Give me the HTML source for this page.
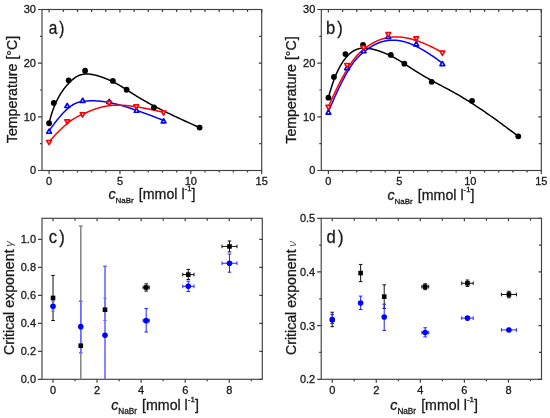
<!DOCTYPE html>
<html><head><meta charset="utf-8"><style>
html,body{margin:0;padding:0;background:#fff;}
svg{display:block;filter:blur(0.3px);}
text{font-family:"Liberation Sans", sans-serif;fill:#1a1a1a;stroke:#1a1a1a;stroke-width:0.3px;}
.tk{font-size:11px;}
.ti{font-size:14.2px;}
.pl{font-size:17.5px;}
</style></head><body>
<svg width="550" height="418" viewBox="0 0 550 418">
<rect width="550" height="418" fill="#fff"/>
<rect x="42" y="9.5" width="219.7" height="161.0" fill="none" stroke="#404040" stroke-width="1.15"/>
<path d="M49.09,170.5 v3.5 M49.09,9.5 v3 M119.96,170.5 v3.5 M119.96,9.5 v3 M190.83,170.5 v3.5 M190.83,9.5 v3 M261.70,170.5 v3.5 M261.70,9.5 v3 M63.26,170.5 v2 M63.26,9.5 v2.5 M77.44,170.5 v2 M77.44,9.5 v2.5 M91.61,170.5 v2 M91.61,9.5 v2.5 M105.78,170.5 v2 M105.78,9.5 v2.5 M134.13,170.5 v2 M134.13,9.5 v2.5 M148.31,170.5 v2 M148.31,9.5 v2.5 M162.48,170.5 v2 M162.48,9.5 v2.5 M176.65,170.5 v2 M176.65,9.5 v2.5 M205.00,170.5 v2 M205.00,9.5 v2.5 M219.18,170.5 v2 M219.18,9.5 v2.5 M233.35,170.5 v2 M233.35,9.5 v2.5 M247.53,170.5 v2 M247.53,9.5 v2.5 M42,170.50 h-4 M261.7,170.50 h-3 M42,116.83 h-4 M261.7,116.83 h-3 M42,63.17 h-4 M261.7,63.17 h-3 M42,9.50 h-4 M261.7,9.50 h-3 M42,143.67 h-2 M261.7,143.67 h-2.5 M42,90.00 h-2 M261.7,90.00 h-2.5 M42,36.33 h-2 M261.7,36.33 h-2.5" stroke="#404040" stroke-width="1.2" fill="none"/>
<text x="49.09" y="185.00" text-anchor="middle" class="tk">0</text>
<text x="119.96" y="185.00" text-anchor="middle" class="tk">5</text>
<text x="190.83" y="185.00" text-anchor="middle" class="tk">10</text>
<text x="261.70" y="185.00" text-anchor="middle" class="tk">15</text>
<text x="36.00" y="174.40" text-anchor="end" class="tk">0</text>
<text x="36.00" y="120.73" text-anchor="end" class="tk">10</text>
<text x="36.00" y="67.07" text-anchor="end" class="tk">20</text>
<text x="36.00" y="13.40" text-anchor="end" class="tk">30</text>
<rect x="321.3" y="9.5" width="219.99999999999994" height="161.0" fill="none" stroke="#404040" stroke-width="1.15"/>
<path d="M328.40,170.5 v3.5 M328.40,9.5 v3 M399.36,170.5 v3.5 M399.36,9.5 v3 M470.33,170.5 v3.5 M470.33,9.5 v3 M541.30,170.5 v3.5 M541.30,9.5 v3 M342.59,170.5 v2 M342.59,9.5 v2.5 M356.78,170.5 v2 M356.78,9.5 v2.5 M370.98,170.5 v2 M370.98,9.5 v2.5 M385.17,170.5 v2 M385.17,9.5 v2.5 M413.56,170.5 v2 M413.56,9.5 v2.5 M427.75,170.5 v2 M427.75,9.5 v2.5 M441.95,170.5 v2 M441.95,9.5 v2.5 M456.14,170.5 v2 M456.14,9.5 v2.5 M484.53,170.5 v2 M484.53,9.5 v2.5 M498.72,170.5 v2 M498.72,9.5 v2.5 M512.91,170.5 v2 M512.91,9.5 v2.5 M527.11,170.5 v2 M527.11,9.5 v2.5 M321.3,170.50 h-4 M541.3,170.50 h-3 M321.3,116.83 h-4 M541.3,116.83 h-3 M321.3,63.17 h-4 M541.3,63.17 h-3 M321.3,9.50 h-4 M541.3,9.50 h-3 M321.3,143.67 h-2 M541.3,143.67 h-2.5 M321.3,90.00 h-2 M541.3,90.00 h-2.5 M321.3,36.33 h-2 M541.3,36.33 h-2.5" stroke="#404040" stroke-width="1.2" fill="none"/>
<text x="328.40" y="185.00" text-anchor="middle" class="tk">0</text>
<text x="399.36" y="185.00" text-anchor="middle" class="tk">5</text>
<text x="470.33" y="185.00" text-anchor="middle" class="tk">10</text>
<text x="541.30" y="185.00" text-anchor="middle" class="tk">15</text>
<text x="315.30" y="174.40" text-anchor="end" class="tk">0</text>
<text x="315.30" y="120.73" text-anchor="end" class="tk">10</text>
<text x="315.30" y="67.07" text-anchor="end" class="tk">20</text>
<text x="315.30" y="13.40" text-anchor="end" class="tk">30</text>
<rect x="42" y="218.3" width="220.3" height="161.0" fill="none" stroke="#404040" stroke-width="1.15"/>
<path d="M53.02,379.3 v3.5 M53.02,218.3 v3 M97.08,379.3 v3.5 M97.08,218.3 v3 M141.13,379.3 v3.5 M141.13,218.3 v3 M185.20,379.3 v3.5 M185.20,218.3 v3 M229.25,379.3 v3.5 M229.25,218.3 v3 M75.05,379.3 v2 M75.05,218.3 v2.5 M119.11,379.3 v2 M119.11,218.3 v2.5 M163.17,379.3 v2 M163.17,218.3 v2.5 M207.23,379.3 v2 M207.23,218.3 v2.5 M251.28,379.3 v2 M251.28,218.3 v2.5 M42,379.30 h-4 M262.3,379.30 h-3 M42,351.30 h-4 M262.3,351.30 h-3 M42,323.30 h-4 M262.3,323.30 h-3 M42,295.30 h-4 M262.3,295.30 h-3 M42,267.30 h-4 M262.3,267.30 h-3 M42,239.30 h-4 M262.3,239.30 h-3" stroke="#404040" stroke-width="1.2" fill="none"/>
<text x="53.02" y="393.80" text-anchor="middle" class="tk">0</text>
<text x="97.08" y="393.80" text-anchor="middle" class="tk">2</text>
<text x="141.13" y="393.80" text-anchor="middle" class="tk">4</text>
<text x="185.20" y="393.80" text-anchor="middle" class="tk">6</text>
<text x="229.25" y="393.80" text-anchor="middle" class="tk">8</text>
<text x="36.00" y="383.20" text-anchor="end" class="tk">0.0</text>
<text x="36.00" y="355.20" text-anchor="end" class="tk">0.2</text>
<text x="36.00" y="327.20" text-anchor="end" class="tk">0.4</text>
<text x="36.00" y="299.20" text-anchor="end" class="tk">0.6</text>
<text x="36.00" y="271.20" text-anchor="end" class="tk">0.8</text>
<text x="36.00" y="243.20" text-anchor="end" class="tk">1.0</text>
<rect x="321.2" y="218.3" width="220.3" height="161.0" fill="none" stroke="#404040" stroke-width="1.15"/>
<path d="M332.21,379.3 v3.5 M332.21,218.3 v3 M376.27,379.3 v3.5 M376.27,218.3 v3 M420.33,379.3 v3.5 M420.33,218.3 v3 M464.39,379.3 v3.5 M464.39,218.3 v3 M508.45,379.3 v3.5 M508.45,218.3 v3 M354.25,379.3 v2 M354.25,218.3 v2.5 M398.31,379.3 v2 M398.31,218.3 v2.5 M442.37,379.3 v2 M442.37,218.3 v2.5 M486.43,379.3 v2 M486.43,218.3 v2.5 M530.49,379.3 v2 M530.49,218.3 v2.5 M321.2,379.30 h-4 M541.5,379.30 h-3 M321.2,325.63 h-4 M541.5,325.63 h-3 M321.2,271.97 h-4 M541.5,271.97 h-3 M321.2,218.30 h-4 M541.5,218.30 h-3 M321.2,352.47 h-2 M541.5,352.47 h-2.5 M321.2,298.80 h-2 M541.5,298.80 h-2.5 M321.2,245.13 h-2 M541.5,245.13 h-2.5" stroke="#404040" stroke-width="1.2" fill="none"/>
<text x="332.21" y="393.80" text-anchor="middle" class="tk">0</text>
<text x="376.27" y="393.80" text-anchor="middle" class="tk">2</text>
<text x="420.33" y="393.80" text-anchor="middle" class="tk">4</text>
<text x="464.39" y="393.80" text-anchor="middle" class="tk">6</text>
<text x="508.45" y="393.80" text-anchor="middle" class="tk">8</text>
<text x="315.20" y="383.20" text-anchor="end" class="tk">0.2</text>
<text x="315.20" y="329.53" text-anchor="end" class="tk">0.3</text>
<text x="315.20" y="275.87" text-anchor="end" class="tk">0.4</text>
<text x="315.20" y="222.20" text-anchor="end" class="tk">0.5</text>
<text transform="translate(48.8,33.8) scale(0.88,1)" class="pl">a<tspan dx="2.2">)</tspan></text>
<text transform="translate(326.0,33.8) scale(0.95,1)" class="pl">b<tspan dx="2.2">)</tspan></text>
<text transform="translate(48.8,242.60000000000002) scale(0.95,1)" class="pl">c<tspan dx="2.2">)</tspan></text>
<text transform="translate(326.59999999999997,242.60000000000002) scale(0.95,1)" class="pl">d<tspan dx="2.2">)</tspan></text>
<text x="108.5" y="198.5" class="ti" font-size="14.2"><tspan font-style="italic">c</tspan><tspan font-size="7.95" dy="4.6">NaBr</tspan><tspan dy="-4.6" dx="1.2"> [mmol l</tspan><tspan font-size="7.81" dy="-7.6">-1</tspan><tspan dy="7.6">]</tspan></text>
<text x="387.5" y="199.6" class="ti" font-size="14.2"><tspan font-style="italic">c</tspan><tspan font-size="7.95" dy="4.6">NaBr</tspan><tspan dy="-4.6" dx="1.2"> [mmol l</tspan><tspan font-size="7.81" dy="-7.6">-1</tspan><tspan dy="7.6">]</tspan></text>
<text x="111.2" y="409.6" class="ti" font-size="14.6"><tspan font-style="italic">c</tspan><tspan font-size="8.18" dy="4.6">NaBr</tspan><tspan dy="-4.6" dx="1.2"> [mmol l</tspan><tspan font-size="8.03" dy="-7.6">-1</tspan><tspan dy="7.6">]</tspan></text>
<text x="390.3" y="409.6" class="ti" font-size="14.6"><tspan font-style="italic">c</tspan><tspan font-size="8.18" dy="4.6">NaBr</tspan><tspan dy="-4.6" dx="1.2"> [mmol l</tspan><tspan font-size="8.03" dy="-7.6">-1</tspan><tspan dy="7.6">]</tspan></text>
<text x="0" y="0" transform="translate(17.2,89.5) rotate(-90)" text-anchor="middle" class="ti" font-size="14.2">Temperature [°C]</text>
<text x="0" y="0" transform="translate(295.6,90) rotate(-90)" text-anchor="middle" class="ti" font-size="14.2">Temperature [°C]</text>
<text x="0" y="0" transform="translate(13.5,298) rotate(-90)" text-anchor="middle" class="ti" font-size="14.2">Critical exponent <tspan font-size="11.5" font-style="italic" fill="#555" stroke="none" dx="-1.2" dy="-0.5">γ</tspan></text>
<text x="0" y="0" transform="translate(296,298) rotate(-90)" text-anchor="middle" class="ti" font-size="14.2">Critical exponent <tspan font-size="11.5" font-style="italic" fill="#555" stroke="none" dx="-1.2" dy="-0.5">ν</tspan></text>
<path d="M49.09,123.27 L49.34,122.19 L49.60,121.12 L49.86,120.06 L50.13,119.03 L50.41,118.01 L50.69,117.00 L50.97,116.02 L51.26,115.05 L51.55,114.10 L51.85,113.16 L52.15,112.24 L52.45,111.33 L52.76,110.44 L53.07,109.57 L53.39,108.71 L53.70,107.86 L54.03,107.03 L54.35,106.21 L54.68,105.41 L55.01,104.63 L55.34,103.85 L55.68,103.09 L56.02,102.35 L56.36,101.62 L56.70,100.90 L57.05,100.19 L57.39,99.50 L57.74,98.82 L58.09,98.15 L58.45,97.50 L58.80,96.86 L59.16,96.23 L59.51,95.61 L59.87,95.00 L60.23,94.41 L60.59,93.83 L60.95,93.25 L61.31,92.69 L61.67,92.14 L62.03,91.60 L62.39,91.07 L62.75,90.56 L63.11,90.05 L63.47,89.55 L63.83,89.06 L64.19,88.58 L64.55,88.11 L64.91,87.65 L65.27,87.20 L65.62,86.76 L65.98,86.33 L66.33,85.90 L66.69,85.49 L67.04,85.08 L67.39,84.68 L67.74,84.29 L68.08,83.90 L68.43,83.53 L68.77,83.16 L69.11,82.80 L69.45,82.44 L69.79,82.10 L70.13,81.76 L70.46,81.43 L70.80,81.11 L71.13,80.79 L71.46,80.48 L71.79,80.18 L72.13,79.89 L72.46,79.60 L72.79,79.33 L73.12,79.06 L73.45,78.79 L73.78,78.54 L74.11,78.29 L74.43,78.05 L74.76,77.81 L75.09,77.58 L75.42,77.36 L75.75,77.15 L76.09,76.95 L76.42,76.75 L76.75,76.56 L77.08,76.37 L77.42,76.20 L77.75,76.03 L78.09,75.86 L78.42,75.71 L78.76,75.56 L79.10,75.41 L79.44,75.28 L79.79,75.15 L80.13,75.03 L80.48,74.91 L80.83,74.81 L81.18,74.71 L81.53,74.61 L81.89,74.52 L82.24,74.44 L82.60,74.37 L82.96,74.30 L83.33,74.24 L83.70,74.19 L84.07,74.14 L84.44,74.10 L84.81,74.06 L85.19,74.04 L85.58,74.01 L85.96,74.00 L86.35,73.99 L86.74,73.99 L87.14,73.99 L87.54,74.00 L87.94,74.02 L88.35,74.04 L88.76,74.07 L89.17,74.11 L89.58,74.15 L90.00,74.19 L90.42,74.24 L90.85,74.30 L91.27,74.36 L91.70,74.43 L92.13,74.50 L92.56,74.58 L92.99,74.66 L93.42,74.75 L93.86,74.84 L94.30,74.93 L94.74,75.03 L95.17,75.13 L95.61,75.24 L96.05,75.35 L96.50,75.47 L96.94,75.59 L97.38,75.71 L97.82,75.84 L98.26,75.96 L98.70,76.10 L99.14,76.23 L99.59,76.37 L100.03,76.51 L100.46,76.65 L100.90,76.80 L101.34,76.95 L101.78,77.10 L102.21,77.25 L102.64,77.41 L103.07,77.57 L103.50,77.72 L103.93,77.89 L104.36,78.05 L104.78,78.21 L105.20,78.38 L105.62,78.54 L106.03,78.71 L106.45,78.88 L106.86,79.05 L107.26,79.22 L107.66,79.39 L108.06,79.56 L108.46,79.73 L108.85,79.90 L109.24,80.07 L109.63,80.24 L110.01,80.41 L110.38,80.58 L110.75,80.76 L111.12,80.93 L111.49,81.10 L111.84,81.27 L112.20,81.44 L112.55,81.61 L112.90,81.78 L113.25,81.95 L113.59,82.12 L113.93,82.29 L114.27,82.46 L114.61,82.63 L114.94,82.81 L115.28,82.98 L115.61,83.16 L115.94,83.33 L116.27,83.51 L116.60,83.69 L116.93,83.87 L117.26,84.05 L117.59,84.24 L117.92,84.42 L118.25,84.61 L118.58,84.80 L118.91,84.99 L119.25,85.19 L119.58,85.39 L119.92,85.58 L120.26,85.79 L120.60,85.99 L120.95,86.20 L121.29,86.41 L121.64,86.62 L122.00,86.84 L122.35,87.06 L122.71,87.28 L123.08,87.51 L123.45,87.74 L123.82,87.97 L124.20,88.21 L124.58,88.45 L124.97,88.70 L125.36,88.95 L125.76,89.20 L126.16,89.46 L126.57,89.72 L126.99,89.99 L127.41,90.26 L127.85,90.54 L128.28,90.82 L128.73,91.11 L129.18,91.40 L129.64,91.70 L130.11,92.00 L130.58,92.31 L131.07,92.62 L131.56,92.94 L132.07,93.26 L132.58,93.60 L133.10,93.93 L133.64,94.28 L134.19,94.63 L134.76,94.99 L135.34,95.35 L135.93,95.73 L136.55,96.11 L137.18,96.50 L137.83,96.90 L138.50,97.31 L139.19,97.73 L139.90,98.16 L140.64,98.60 L141.40,99.05 L142.18,99.50 L142.99,99.97 L143.83,100.45 L144.69,100.95 L145.59,101.45 L146.51,101.97 L147.46,102.49 L148.44,103.03 L149.46,103.59 L150.51,104.15 L151.59,104.73 L152.71,105.33 L153.86,105.93 L155.05,106.56 L156.28,107.19 L157.55,107.84 L158.86,108.51 L160.21,109.19 L161.60,109.89 L163.03,110.60 L164.51,111.33 L166.03,112.08 L167.59,112.84 L169.21,113.62 L170.87,114.42 L172.58,115.23 L174.33,116.06 L176.14,116.91 L178.00,117.78 L179.91,118.67 L181.88,119.58 L183.90,120.51 L185.97,121.46 L188.10,122.42 L190.28,123.41 L192.53,124.42 L194.83,125.45 L197.19,126.50 L199.62,127.57" fill="none" stroke="#000" stroke-width="1.5" stroke-linejoin="round"/>
<path d="M49.09,130.79 L49.90,129.64 L50.70,128.52 L51.49,127.43 L52.26,126.37 L53.02,125.35 L53.76,124.35 L54.50,123.38 L55.22,122.44 L55.92,121.53 L56.62,120.64 L57.30,119.79 L57.98,118.96 L58.64,118.15 L59.29,117.37 L59.92,116.62 L60.55,115.89 L61.17,115.19 L61.77,114.51 L62.37,113.85 L62.96,113.22 L63.53,112.61 L64.10,112.02 L64.66,111.46 L65.21,110.91 L65.75,110.39 L66.28,109.88 L66.80,109.40 L67.32,108.94 L67.83,108.49 L68.33,108.07 L68.82,107.66 L69.30,107.27 L69.78,106.90 L70.25,106.54 L70.72,106.20 L71.17,105.88 L71.63,105.57 L72.07,105.28 L72.51,105.00 L72.95,104.74 L73.38,104.49 L73.81,104.25 L74.23,104.02 L74.64,103.81 L75.05,103.61 L75.46,103.43 L75.87,103.25 L76.27,103.08 L76.66,102.93 L77.06,102.78 L77.45,102.64 L77.83,102.52 L78.22,102.40 L78.60,102.28 L78.98,102.18 L79.36,102.08 L79.74,101.99 L80.12,101.91 L80.49,101.83 L80.87,101.75 L81.24,101.69 L81.62,101.62 L81.99,101.56 L82.36,101.50 L82.74,101.45 L83.11,101.40 L83.48,101.35 L83.86,101.30 L84.24,101.26 L84.61,101.21 L84.99,101.17 L85.37,101.13 L85.75,101.10 L86.13,101.06 L86.51,101.03 L86.90,101.00 L87.28,100.97 L87.67,100.94 L88.05,100.92 L88.44,100.89 L88.83,100.87 L89.22,100.86 L89.61,100.84 L90.00,100.83 L90.40,100.82 L90.79,100.81 L91.19,100.80 L91.59,100.79 L91.99,100.79 L92.39,100.79 L92.80,100.79 L93.20,100.80 L93.61,100.80 L94.02,100.81 L94.43,100.82 L94.84,100.84 L95.26,100.85 L95.68,100.87 L96.09,100.89 L96.52,100.91 L96.94,100.94 L97.36,100.97 L97.79,101.00 L98.22,101.03 L98.65,101.06 L99.08,101.10 L99.52,101.14 L99.96,101.18 L100.40,101.23 L100.84,101.27 L101.29,101.32 L101.73,101.38 L102.18,101.43 L102.64,101.49 L103.09,101.55 L103.55,101.61 L104.01,101.67 L104.48,101.74 L104.94,101.81 L105.41,101.88 L105.88,101.96 L106.36,102.04 L106.83,102.12 L107.31,102.20 L107.80,102.29 L108.28,102.38 L108.77,102.47 L109.27,102.56 L109.76,102.66 L110.26,102.76 L110.76,102.86 L111.27,102.97 L111.78,103.07 L112.29,103.18 L112.80,103.30 L113.32,103.41 L113.85,103.53 L114.37,103.66 L114.91,103.78 L115.44,103.91 L115.99,104.04 L116.53,104.18 L117.09,104.32 L117.64,104.46 L118.21,104.61 L118.78,104.76 L119.35,104.91 L119.94,105.07 L120.53,105.24 L121.12,105.40 L121.73,105.57 L122.34,105.75 L122.96,105.93 L123.58,106.11 L124.22,106.30 L124.86,106.50 L125.51,106.69 L126.17,106.90 L126.84,107.11 L127.52,107.32 L128.21,107.54 L128.91,107.76 L129.62,107.99 L130.34,108.22 L131.06,108.46 L131.80,108.71 L132.55,108.96 L133.31,109.21 L134.09,109.48 L134.87,109.74 L135.67,110.02 L136.47,110.30 L137.29,110.58 L138.13,110.87 L138.97,111.17 L139.83,111.48 L140.70,111.79 L141.58,112.11 L142.48,112.43 L143.39,112.76 L144.32,113.10 L145.25,113.44 L146.21,113.79 L147.18,114.15 L148.16,114.52 L149.16,114.89 L150.17,115.27 L151.20,115.66 L152.25,116.05 L153.31,116.45 L154.38,116.86 L155.48,117.28 L156.59,117.71 L157.72,118.14 L158.86,118.58 L160.02,119.03 L161.20,119.49 L162.40,119.96 L163.61,120.43" fill="none" stroke="#0000ff" stroke-width="1.5" stroke-linejoin="round"/>
<path d="M49.09,141.79 L49.90,140.87 L50.70,139.97 L51.49,139.09 L52.26,138.23 L53.02,137.40 L53.76,136.59 L54.49,135.80 L55.21,135.03 L55.92,134.28 L56.62,133.56 L57.30,132.85 L57.97,132.16 L58.63,131.49 L59.28,130.84 L59.91,130.21 L60.54,129.59 L61.16,128.99 L61.76,128.42 L62.36,127.85 L62.94,127.31 L63.52,126.78 L64.08,126.26 L64.64,125.77 L65.19,125.28 L65.73,124.82 L66.26,124.36 L66.78,123.92 L67.29,123.50 L67.80,123.09 L68.29,122.69 L68.78,122.30 L69.27,121.93 L69.74,121.57 L70.21,121.22 L70.68,120.88 L71.13,120.55 L71.58,120.23 L72.03,119.92 L72.47,119.63 L72.90,119.34 L73.33,119.06 L73.75,118.79 L74.17,118.53 L74.59,118.28 L75.00,118.03 L75.40,117.79 L75.80,117.56 L76.20,117.34 L76.60,117.12 L76.99,116.91 L77.38,116.70 L77.77,116.50 L78.15,116.30 L78.53,116.11 L78.91,115.92 L79.29,115.74 L79.67,115.56 L80.04,115.38 L80.42,115.20 L80.79,115.03 L81.16,114.86 L81.54,114.69 L81.91,114.52 L82.28,114.36 L82.65,114.19 L83.03,114.03 L83.40,113.86 L83.78,113.69 L84.15,113.53 L84.53,113.36 L84.91,113.20 L85.29,113.03 L85.67,112.86 L86.05,112.70 L86.43,112.53 L86.81,112.37 L87.20,112.20 L87.58,112.04 L87.97,111.87 L88.36,111.71 L88.75,111.54 L89.14,111.38 L89.53,111.22 L89.92,111.06 L90.32,110.90 L90.71,110.74 L91.11,110.58 L91.51,110.42 L91.91,110.27 L92.31,110.11 L92.72,109.96 L93.13,109.81 L93.53,109.65 L93.94,109.50 L94.35,109.36 L94.77,109.21 L95.18,109.06 L95.60,108.92 L96.02,108.78 L96.44,108.64 L96.86,108.50 L97.29,108.36 L97.72,108.23 L98.15,108.10 L98.58,107.96 L99.01,107.84 L99.45,107.71 L99.88,107.59 L100.33,107.46 L100.77,107.34 L101.21,107.23 L101.66,107.11 L102.11,107.00 L102.56,106.89 L103.02,106.79 L103.48,106.68 L103.94,106.58 L104.40,106.48 L104.87,106.39 L105.33,106.29 L105.80,106.20 L106.28,106.12 L106.75,106.04 L107.23,105.96 L107.72,105.88 L108.20,105.81 L108.69,105.74 L109.18,105.67 L109.67,105.61 L110.17,105.55 L110.67,105.49 L111.18,105.44 L111.68,105.39 L112.19,105.35 L112.70,105.31 L113.22,105.27 L113.74,105.24 L114.27,105.21 L114.80,105.18 L115.33,105.16 L115.87,105.15 L116.41,105.13 L116.96,105.13 L117.52,105.12 L118.08,105.12 L118.65,105.12 L119.22,105.13 L119.80,105.15 L120.39,105.16 L120.98,105.18 L121.58,105.21 L122.19,105.24 L122.81,105.27 L123.43,105.31 L124.06,105.36 L124.71,105.40 L125.36,105.46 L126.01,105.51 L126.68,105.58 L127.36,105.64 L128.05,105.71 L128.74,105.79 L129.45,105.87 L130.17,105.95 L130.89,106.05 L131.63,106.14 L132.38,106.24 L133.14,106.35 L133.92,106.46 L134.70,106.57 L135.50,106.69 L136.30,106.81 L137.12,106.94 L137.96,107.08 L138.80,107.22 L139.66,107.37 L140.54,107.52 L141.42,107.67 L142.32,107.83 L143.24,108.00 L144.17,108.17 L145.11,108.35 L146.07,108.53 L147.04,108.72 L148.03,108.91 L149.04,109.11 L150.06,109.32 L151.09,109.53 L152.15,109.74 L153.21,109.97 L154.30,110.19 L155.40,110.43 L156.52,110.66 L157.66,110.91 L158.81,111.16 L159.99,111.41 L161.18,111.68 L162.39,111.94 L163.61,112.22" fill="none" stroke="#ff0000" stroke-width="1.5" stroke-linejoin="round"/>
<circle cx="49.09" cy="123.27" r="2.9" fill="#000"/>
<circle cx="53.76" cy="102.88" r="2.9" fill="#000"/>
<circle cx="68.65" cy="80.34" r="2.9" fill="#000"/>
<circle cx="85.09" cy="70.68" r="2.9" fill="#000"/>
<circle cx="112.87" cy="80.88" r="2.9" fill="#000"/>
<circle cx="126.62" cy="89.73" r="2.9" fill="#000"/>
<circle cx="153.98" cy="107.44" r="2.9" fill="#000"/>
<circle cx="199.62" cy="127.57" r="2.9" fill="#000"/>
<path d="M49.09,129.09 L51.49,133.25 L46.69,133.25 Z" fill="#fff" stroke="#00f" stroke-width="1.6" stroke-linejoin="round"/>
<path d="M67.23,103.33 L69.63,107.49 L64.83,107.49 Z" fill="#fff" stroke="#00f" stroke-width="1.6" stroke-linejoin="round"/>
<path d="M82.68,98.23 L85.08,102.39 L80.28,102.39 Z" fill="#fff" stroke="#00f" stroke-width="1.6" stroke-linejoin="round"/>
<path d="M109.19,99.31 L111.59,103.46 L106.79,103.46 Z" fill="#fff" stroke="#00f" stroke-width="1.6" stroke-linejoin="round"/>
<path d="M136.54,108.16 L138.94,112.32 L134.14,112.32 Z" fill="#fff" stroke="#00f" stroke-width="1.6" stroke-linejoin="round"/>
<path d="M163.61,118.73 L166.01,122.89 L161.21,122.89 Z" fill="#fff" stroke="#00f" stroke-width="1.6" stroke-linejoin="round"/>
<path d="M49.09,144.68 L51.49,140.53 L46.69,140.53 Z" fill="#fff" stroke="#f00" stroke-width="1.6" stroke-linejoin="round"/>
<path d="M67.23,124.02 L69.63,119.86 L64.83,119.86 Z" fill="#fff" stroke="#f00" stroke-width="1.6" stroke-linejoin="round"/>
<path d="M82.54,117.04 L84.94,112.89 L80.14,112.89 Z" fill="#fff" stroke="#f00" stroke-width="1.6" stroke-linejoin="round"/>
<path d="M109.19,105.51 L111.59,101.35 L106.79,101.35 Z" fill="#fff" stroke="#f00" stroke-width="1.6" stroke-linejoin="round"/>
<path d="M136.26,108.99 L138.66,104.84 L133.86,104.84 Z" fill="#fff" stroke="#f00" stroke-width="1.6" stroke-linejoin="round"/>
<path d="M163.61,115.11 L166.01,110.96 L161.21,110.96 Z" fill="#fff" stroke="#f00" stroke-width="1.6" stroke-linejoin="round"/>
<path d="M328.40,97.67 L328.71,96.51 L329.02,95.37 L329.34,94.25 L329.65,93.14 L329.96,92.06 L330.28,90.99 L330.59,89.94 L330.91,88.92 L331.23,87.90 L331.54,86.91 L331.86,85.94 L332.18,84.98 L332.49,84.04 L332.81,83.12 L333.13,82.21 L333.45,81.32 L333.77,80.45 L334.09,79.59 L334.41,78.75 L334.73,77.93 L335.05,77.12 L335.37,76.32 L335.69,75.55 L336.01,74.78 L336.33,74.04 L336.65,73.30 L336.97,72.58 L337.30,71.88 L337.62,71.19 L337.94,70.51 L338.27,69.85 L338.59,69.20 L338.91,68.56 L339.24,67.94 L339.56,67.33 L339.89,66.73 L340.21,66.15 L340.54,65.57 L340.86,65.01 L341.19,64.46 L341.51,63.93 L341.84,63.40 L342.16,62.89 L342.49,62.38 L342.82,61.89 L343.14,61.41 L343.47,60.93 L343.80,60.47 L344.12,60.02 L344.45,59.58 L344.78,59.14 L345.11,58.72 L345.43,58.31 L345.76,57.90 L346.09,57.50 L346.42,57.12 L346.75,56.74 L347.07,56.37 L347.40,56.01 L347.73,55.65 L348.06,55.31 L348.40,54.97 L348.73,54.65 L349.06,54.33 L349.39,54.02 L349.73,53.72 L350.06,53.42 L350.40,53.14 L350.74,52.86 L351.07,52.59 L351.41,52.33 L351.76,52.08 L352.10,51.84 L352.44,51.60 L352.79,51.38 L353.13,51.16 L353.48,50.95 L353.83,50.74 L354.18,50.55 L354.54,50.36 L354.89,50.18 L355.25,50.01 L355.61,49.84 L355.97,49.69 L356.34,49.54 L356.70,49.40 L357.07,49.26 L357.44,49.14 L357.81,49.02 L358.19,48.91 L358.57,48.80 L358.95,48.71 L359.33,48.62 L359.72,48.54 L360.11,48.46 L360.50,48.39 L360.89,48.33 L361.29,48.28 L361.69,48.24 L362.10,48.20 L362.50,48.16 L362.91,48.14 L363.33,48.12 L363.75,48.11 L364.17,48.11 L364.59,48.11 L365.02,48.12 L365.45,48.14 L365.88,48.16 L366.32,48.19 L366.76,48.22 L367.21,48.27 L367.65,48.31 L368.10,48.37 L368.55,48.43 L369.01,48.49 L369.46,48.56 L369.92,48.64 L370.38,48.72 L370.84,48.81 L371.30,48.90 L371.76,48.99 L372.23,49.09 L372.69,49.20 L373.16,49.31 L373.62,49.42 L374.09,49.54 L374.56,49.66 L375.03,49.78 L375.49,49.91 L375.96,50.05 L376.43,50.18 L376.89,50.32 L377.36,50.46 L377.82,50.61 L378.28,50.76 L378.75,50.91 L379.21,51.06 L379.67,51.22 L380.12,51.38 L380.58,51.54 L381.03,51.70 L381.48,51.87 L381.93,52.03 L382.38,52.20 L382.82,52.37 L383.26,52.54 L383.70,52.71 L384.13,52.89 L384.56,53.06 L384.99,53.24 L385.41,53.41 L385.83,53.59 L386.25,53.77 L386.66,53.94 L387.07,54.12 L387.47,54.30 L387.87,54.48 L388.26,54.65 L388.65,54.83 L389.04,55.01 L389.41,55.18 L389.79,55.36 L390.16,55.53 L390.52,55.71 L390.89,55.88 L391.24,56.06 L391.60,56.23 L391.95,56.41 L392.29,56.58 L392.64,56.76 L392.98,56.94 L393.32,57.11 L393.65,57.29 L393.99,57.47 L394.32,57.65 L394.65,57.83 L394.98,58.01 L395.30,58.19 L395.63,58.37 L395.95,58.55 L396.27,58.73 L396.59,58.92 L396.91,59.11 L397.23,59.29 L397.55,59.48 L397.87,59.67 L398.19,59.86 L398.52,60.06 L398.84,60.25 L399.16,60.45 L399.48,60.65 L399.80,60.85 L400.13,61.05 L400.45,61.25 L400.78,61.46 L401.11,61.67 L401.44,61.88 L401.78,62.09 L402.11,62.30 L402.45,62.52 L402.79,62.74 L403.14,62.96 L403.48,63.19 L403.83,63.42 L404.19,63.65 L404.55,63.88 L404.91,64.12 L405.27,64.36 L405.64,64.60 L406.02,64.84 L406.40,65.09 L406.78,65.34 L407.17,65.60 L407.56,65.86 L407.96,66.12 L408.36,66.38 L408.77,66.65 L409.19,66.92 L409.61,67.20 L410.04,67.48 L410.47,67.76 L410.91,68.05 L411.35,68.33 L411.81,68.63 L412.26,68.92 L412.73,69.22 L413.20,69.52 L413.68,69.83 L414.16,70.14 L414.66,70.45 L415.16,70.77 L415.66,71.08 L416.18,71.41 L416.70,71.73 L417.23,72.06 L417.77,72.40 L418.31,72.73 L418.87,73.07 L419.43,73.42 L420.00,73.76 L420.58,74.12 L421.17,74.47 L421.77,74.83 L422.37,75.19 L422.99,75.55 L423.61,75.92 L424.24,76.29 L424.89,76.67 L425.54,77.05 L426.20,77.43 L426.87,77.82 L427.55,78.21 L428.24,78.60 L428.95,79.00 L429.66,79.40 L430.38,79.81 L431.11,80.21 L431.86,80.63 L432.61,81.04 L433.38,81.46 L434.16,81.88 L434.94,82.31 L435.74,82.74 L436.55,83.17 L437.38,83.61 L438.21,84.05 L439.06,84.50 L439.92,84.95 L440.79,85.41 L441.68,85.88 L442.59,86.35 L443.51,86.84 L444.45,87.33 L445.41,87.84 L446.39,88.36 L447.38,88.89 L448.40,89.44 L449.44,90.01 L450.51,90.59 L451.59,91.18 L452.70,91.80 L453.84,92.43 L455.00,93.09 L456.19,93.77 L457.40,94.47 L458.65,95.19 L459.92,95.93 L461.22,96.71 L462.56,97.50 L463.92,98.33 L465.32,99.18 L466.75,100.06 L468.22,100.98 L469.71,101.92 L471.25,102.90 L472.82,103.90 L474.43,104.94 L476.08,106.02 L477.76,107.13 L479.49,108.28 L481.26,109.47 L483.07,110.70 L484.92,111.96 L486.81,113.27 L488.75,114.62 L490.73,116.01 L492.76,117.44 L494.83,118.92 L496.95,120.44 L499.12,122.01 L501.34,123.63 L503.61,125.30 L505.93,127.01 L508.30,128.78 L510.72,130.60 L513.19,132.47 L515.72,134.39 L518.31,136.37" fill="none" stroke="#000" stroke-width="1.5" stroke-linejoin="round"/>
<path d="M328.40,111.63 L329.24,109.64 L330.06,107.71 L330.88,105.82 L331.67,103.97 L332.46,102.18 L333.23,100.43 L333.99,98.72 L334.74,97.06 L335.47,95.44 L336.19,93.87 L336.90,92.33 L337.60,90.84 L338.28,89.39 L338.95,87.98 L339.62,86.61 L340.27,85.27 L340.91,83.98 L341.54,82.72 L342.16,81.50 L342.77,80.31 L343.37,79.16 L343.96,78.04 L344.54,76.96 L345.11,75.91 L345.67,74.89 L346.22,73.91 L346.76,72.95 L347.30,72.02 L347.82,71.13 L348.34,70.26 L348.85,69.42 L349.36,68.61 L349.85,67.82 L350.34,67.06 L350.82,66.33 L351.30,65.62 L351.77,64.93 L352.23,64.27 L352.69,63.63 L353.14,63.01 L353.58,62.41 L354.02,61.83 L354.45,61.28 L354.88,60.74 L355.30,60.22 L355.72,59.71 L356.14,59.23 L356.55,58.75 L356.96,58.30 L357.36,57.86 L357.76,57.43 L358.15,57.02 L358.55,56.62 L358.94,56.23 L359.32,55.85 L359.71,55.48 L360.09,55.13 L360.47,54.78 L360.85,54.44 L361.23,54.11 L361.61,53.78 L361.98,53.46 L362.35,53.15 L362.73,52.84 L363.10,52.53 L363.47,52.23 L363.84,51.94 L364.22,51.64 L364.59,51.35 L364.96,51.06 L365.34,50.77 L365.71,50.48 L366.08,50.20 L366.46,49.92 L366.83,49.64 L367.20,49.37 L367.58,49.10 L367.96,48.83 L368.33,48.57 L368.71,48.31 L369.09,48.05 L369.47,47.79 L369.85,47.54 L370.23,47.29 L370.61,47.05 L370.99,46.81 L371.38,46.57 L371.76,46.34 L372.15,46.10 L372.54,45.88 L372.93,45.65 L373.32,45.43 L373.71,45.22 L374.11,45.01 L374.50,44.80 L374.90,44.59 L375.30,44.39 L375.70,44.20 L376.10,44.00 L376.51,43.82 L376.91,43.63 L377.32,43.45 L377.73,43.28 L378.15,43.10 L378.56,42.94 L378.98,42.77 L379.40,42.62 L379.82,42.46 L380.25,42.31 L380.67,42.17 L381.10,42.03 L381.54,41.90 L381.97,41.76 L382.41,41.64 L382.85,41.52 L383.29,41.40 L383.74,41.29 L384.19,41.19 L384.64,41.09 L385.10,40.99 L385.56,40.90 L386.02,40.81 L386.49,40.73 L386.96,40.66 L387.43,40.59 L387.90,40.53 L388.38,40.47 L388.87,40.42 L389.35,40.37 L389.84,40.33 L390.34,40.29 L390.83,40.26 L391.34,40.23 L391.84,40.22 L392.35,40.20 L392.87,40.20 L393.38,40.20 L393.91,40.20 L394.44,40.22 L394.97,40.24 L395.51,40.27 L396.05,40.30 L396.60,40.35 L397.16,40.40 L397.72,40.46 L398.29,40.53 L398.86,40.61 L399.44,40.70 L400.03,40.80 L400.63,40.91 L401.23,41.02 L401.84,41.15 L402.46,41.29 L403.08,41.44 L403.72,41.60 L404.36,41.77 L405.01,41.95 L405.67,42.15 L406.33,42.35 L407.01,42.57 L407.69,42.80 L408.39,43.05 L409.09,43.30 L409.81,43.57 L410.53,43.85 L411.26,44.15 L412.01,44.46 L412.76,44.79 L413.53,45.12 L414.30,45.48 L415.09,45.85 L415.89,46.23 L416.70,46.63 L417.52,47.04 L418.35,47.47 L419.20,47.92 L420.05,48.38 L420.92,48.86 L421.80,49.36 L422.70,49.87 L423.61,50.40 L424.53,50.95 L425.46,51.51 L426.41,52.09 L427.37,52.70 L428.34,53.32 L429.33,53.95 L430.34,54.61 L431.36,55.29 L432.39,55.98 L433.44,56.70 L434.50,57.44 L435.58,58.19 L436.67,58.97 L437.78,59.77 L438.90,60.58 L440.04,61.42 L441.20,62.28 L442.37,63.17" fill="none" stroke="#0000ff" stroke-width="1.5" stroke-linejoin="round"/>
<path d="M328.40,106.64 L329.24,104.77 L330.06,102.94 L330.88,101.16 L331.67,99.42 L332.46,97.72 L333.23,96.07 L333.99,94.46 L334.74,92.88 L335.47,91.35 L336.19,89.86 L336.90,88.40 L337.60,86.99 L338.28,85.61 L338.95,84.27 L339.62,82.96 L340.27,81.69 L340.91,80.46 L341.54,79.26 L342.16,78.09 L342.77,76.96 L343.37,75.86 L343.96,74.79 L344.54,73.75 L345.11,72.75 L345.67,71.77 L346.22,70.82 L346.76,69.90 L347.30,69.01 L347.82,68.15 L348.34,67.31 L348.85,66.50 L349.36,65.71 L349.85,64.95 L350.34,64.21 L350.82,63.50 L351.30,62.81 L351.77,62.14 L352.23,61.49 L352.69,60.87 L353.14,60.26 L353.58,59.67 L354.02,59.11 L354.45,58.56 L354.88,58.03 L355.30,57.51 L355.72,57.02 L356.14,56.54 L356.55,56.07 L356.96,55.62 L357.36,55.18 L357.76,54.76 L358.15,54.35 L358.55,53.95 L358.94,53.56 L359.32,53.18 L359.71,52.81 L360.09,52.46 L360.47,52.11 L360.85,51.77 L361.23,51.43 L361.61,51.11 L361.98,50.79 L362.35,50.47 L362.73,50.16 L363.10,49.86 L363.47,49.56 L363.84,49.26 L364.22,48.97 L364.59,48.67 L364.96,48.39 L365.34,48.10 L365.71,47.82 L366.08,47.54 L366.46,47.26 L366.83,46.99 L367.20,46.71 L367.58,46.45 L367.96,46.18 L368.33,45.92 L368.71,45.66 L369.09,45.41 L369.47,45.16 L369.85,44.91 L370.23,44.66 L370.61,44.42 L370.99,44.18 L371.38,43.95 L371.76,43.72 L372.15,43.49 L372.54,43.26 L372.93,43.04 L373.32,42.82 L373.71,42.61 L374.11,42.40 L374.50,42.19 L374.90,41.99 L375.30,41.79 L375.70,41.59 L376.10,41.40 L376.51,41.21 L376.91,41.02 L377.32,40.84 L377.73,40.66 L378.15,40.49 L378.56,40.32 L378.98,40.15 L379.40,39.99 L379.82,39.83 L380.25,39.68 L380.67,39.52 L381.10,39.38 L381.54,39.23 L381.97,39.09 L382.41,38.96 L382.85,38.83 L383.29,38.70 L383.74,38.58 L384.19,38.46 L384.64,38.34 L385.10,38.23 L385.56,38.13 L386.02,38.02 L386.49,37.93 L386.96,37.83 L387.43,37.74 L387.90,37.66 L388.38,37.58 L388.87,37.50 L389.35,37.43 L389.84,37.36 L390.34,37.30 L390.83,37.24 L391.34,37.18 L391.84,37.13 L392.35,37.09 L392.87,37.05 L393.38,37.01 L393.91,36.98 L394.44,36.96 L394.97,36.94 L395.51,36.93 L396.05,36.92 L396.60,36.92 L397.16,36.92 L397.72,36.94 L398.29,36.95 L398.86,36.98 L399.44,37.01 L400.03,37.05 L400.63,37.10 L401.23,37.16 L401.84,37.22 L402.46,37.29 L403.08,37.37 L403.72,37.46 L404.36,37.55 L405.01,37.66 L405.67,37.77 L406.33,37.90 L407.01,38.03 L407.69,38.17 L408.39,38.32 L409.09,38.48 L409.81,38.66 L410.53,38.84 L411.26,39.03 L412.01,39.23 L412.76,39.45 L413.53,39.67 L414.30,39.91 L415.09,40.16 L415.89,40.41 L416.70,40.68 L417.52,40.97 L418.35,41.26 L419.20,41.57 L420.05,41.89 L420.92,42.22 L421.80,42.56 L422.70,42.92 L423.61,43.29 L424.53,43.68 L425.46,44.07 L426.41,44.49 L427.37,44.91 L428.34,45.35 L429.33,45.81 L430.34,46.27 L431.36,46.76 L432.39,47.25 L433.44,47.77 L434.50,48.30 L435.58,48.84 L436.67,49.40 L437.78,49.97 L438.90,50.56 L440.04,51.17 L441.20,51.79 L442.37,52.43" fill="none" stroke="#ff0000" stroke-width="1.5" stroke-linejoin="round"/>
<circle cx="328.40" cy="97.67" r="2.9" fill="#000"/>
<circle cx="333.93" cy="76.91" r="2.9" fill="#000"/>
<circle cx="345.43" cy="54.04" r="2.9" fill="#000"/>
<circle cx="363.03" cy="44.92" r="2.9" fill="#000"/>
<circle cx="390.85" cy="54.96" r="2.9" fill="#000"/>
<circle cx="404.33" cy="63.70" r="2.9" fill="#000"/>
<circle cx="431.73" cy="81.79" r="2.9" fill="#000"/>
<circle cx="472.04" cy="100.84" r="2.9" fill="#000"/>
<circle cx="518.31" cy="136.37" r="2.9" fill="#000"/>
<path d="M328.40,109.93 L330.80,114.09 L326.00,114.09 Z" fill="#fff" stroke="#00f" stroke-width="1.6" stroke-linejoin="round"/>
<path d="M347.13,65.50 L349.53,69.65 L344.73,69.65 Z" fill="#fff" stroke="#00f" stroke-width="1.6" stroke-linejoin="round"/>
<path d="M363.60,48.59 L366.00,52.75 L361.20,52.75 Z" fill="#fff" stroke="#00f" stroke-width="1.6" stroke-linejoin="round"/>
<path d="M388.29,34.32 L390.69,38.47 L385.89,38.47 Z" fill="#fff" stroke="#00f" stroke-width="1.6" stroke-linejoin="round"/>
<path d="M416.25,41.72 L418.65,45.88 L413.85,45.88 Z" fill="#fff" stroke="#00f" stroke-width="1.6" stroke-linejoin="round"/>
<path d="M442.37,61.47 L444.77,65.63 L439.97,65.63 Z" fill="#fff" stroke="#00f" stroke-width="1.6" stroke-linejoin="round"/>
<path d="M328.40,109.53 L330.80,105.37 L326.00,105.37 Z" fill="#fff" stroke="#f00" stroke-width="1.6" stroke-linejoin="round"/>
<path d="M347.13,67.67 L349.53,63.51 L344.73,63.51 Z" fill="#fff" stroke="#f00" stroke-width="1.6" stroke-linejoin="round"/>
<path d="M363.60,50.23 L366.00,46.07 L361.20,46.07 Z" fill="#fff" stroke="#f00" stroke-width="1.6" stroke-linejoin="round"/>
<path d="M388.29,36.81 L390.69,32.66 L385.89,32.66 Z" fill="#fff" stroke="#f00" stroke-width="1.6" stroke-linejoin="round"/>
<path d="M416.25,41.00 L418.65,36.84 L413.85,36.84 Z" fill="#fff" stroke="#f00" stroke-width="1.6" stroke-linejoin="round"/>
<path d="M442.37,55.33 L444.77,51.17 L439.97,51.17 Z" fill="#fff" stroke="#f00" stroke-width="1.6" stroke-linejoin="round"/>
<clipPath id="cc"><rect x="42" y="218.3" width="220.3" height="161.0"/></clipPath>
<g clip-path="url(#cc)">
<path d="M53.02,320.50 V275.42 M51.22,320.50 h3.6 M51.22,275.42 h3.6" stroke="#111" stroke-width="1.0" fill="none"/>
<path d="M80.77,477.30 V226.00 M78.97,477.30 h3.6 M78.97,226.00 h3.6" stroke="#888888" stroke-width="1.6" fill="none"/>
<path d="M105.01,320.50 V298.10 M103.21,320.50 h3.6 M103.21,298.10 h3.6" stroke="#888888" stroke-width="1.0" fill="none"/>
<path d="M146.20,291.10 V283.82 M144.40,291.10 h3.6 M144.40,283.82 h3.6 M143.12,287.46 H149.29 M143.12,285.66 v3.6 M149.29,285.66 v3.6" stroke="#111" stroke-width="1.0" fill="none"/>
<path d="M188.28,279.48 V269.40 M186.48,279.48 h3.6 M186.48,269.40 h3.6 M182.77,274.58 H194.01 M182.77,272.78 v3.6 M194.01,272.78 v3.6" stroke="#111" stroke-width="1.0" fill="none"/>
<path d="M229.48,251.90 V240.98 M227.68,251.90 h3.6 M227.68,240.98 h3.6 M221.99,246.44 H236.97 M221.99,244.64 v3.6 M236.97,244.64 v3.6" stroke="#111" stroke-width="1.0" fill="none"/>
<path d="M53.02,311.12 V301.32 M51.22,311.12 h3.6 M51.22,301.32 h3.6" stroke="#6a6aff" stroke-width="1.0" fill="none"/>
<path d="M80.77,352.70 V301.32 M78.97,352.70 h3.6 M78.97,301.32 h3.6" stroke="#6a6aff" stroke-width="1.6" fill="none"/>
<path d="M105.01,421.30 V266.32 M103.21,421.30 h3.6 M103.21,266.32 h3.6" stroke="#6a6aff" stroke-width="1.6" fill="none"/>
<path d="M146.20,331.98 V308.60 M144.40,331.98 h3.6 M144.40,308.60 h3.6 M143.12,320.64 H149.29 M143.12,318.84 v3.6 M149.29,318.84 v3.6" stroke="#2222ff" stroke-width="1.0" fill="none"/>
<path d="M188.28,291.52 V281.16 M186.48,291.52 h3.6 M186.48,281.16 h3.6 M182.77,286.34 H194.01 M182.77,284.54 v3.6 M194.01,284.54 v3.6" stroke="#2222ff" stroke-width="1.0" fill="none"/>
<path d="M229.48,272.20 V254.00 M227.68,272.20 h3.6 M227.68,254.00 h3.6 M221.99,263.24 H236.97 M221.99,261.44 v3.6 M236.97,261.44 v3.6" stroke="#2222ff" stroke-width="1.0" fill="none"/>
<rect x="50.72" y="295.66" width="4.6" height="4.6" fill="#000"/>
<rect x="78.47" y="343.40" width="4.6" height="4.6" fill="#000"/>
<rect x="102.71" y="307.42" width="4.6" height="4.6" fill="#000"/>
<rect x="143.90" y="285.16" width="4.6" height="4.6" fill="#000"/>
<rect x="185.98" y="272.28" width="4.6" height="4.6" fill="#000"/>
<rect x="227.18" y="244.14" width="4.6" height="4.6" fill="#000"/>
<circle cx="53.02" cy="306.22" r="2.8" fill="#0000ff"/>
<circle cx="80.77" cy="326.66" r="2.8" fill="#0000ff"/>
<circle cx="105.01" cy="335.34" r="2.8" fill="#0000ff"/>
<circle cx="146.20" cy="320.64" r="2.8" fill="#0000ff"/>
<circle cx="188.28" cy="286.34" r="2.8" fill="#0000ff"/>
<circle cx="229.48" cy="263.24" r="2.8" fill="#0000ff"/>
</g>
<path d="M360.63,281.63 V264.45 M358.83,281.63 h3.6 M358.83,264.45 h3.6" stroke="#111" stroke-width="1.0" fill="none"/>
<path d="M384.21,308.46 V284.85 M382.41,308.46 h3.6 M382.41,284.85 h3.6" stroke="#111" stroke-width="1.0" fill="none"/>
<path d="M425.18,289.68 V283.77 M423.38,289.68 h3.6 M423.38,283.77 h3.6 M421.88,286.67 H428.71 M421.88,284.87 v3.6 M428.71,284.87 v3.6" stroke="#111" stroke-width="1.0" fill="none"/>
<path d="M467.48,286.46 V280.02 M465.68,286.46 h3.6 M465.68,280.02 h3.6 M461.75,283.24 H473.21 M461.75,281.44 v3.6 M473.21,281.44 v3.6" stroke="#111" stroke-width="1.0" fill="none"/>
<path d="M508.90,297.73 V291.29 M507.10,297.73 h3.6 M507.10,291.29 h3.6 M501.41,294.51 H516.39 M501.41,292.71 v3.6 M516.39,292.71 v3.6" stroke="#111" stroke-width="1.0" fill="none"/>
<path d="M332.21,326.71 V312.22 M330.41,326.71 h3.6 M330.41,312.22 h3.6" stroke="#111" stroke-width="1.0" fill="none"/>
<path d="M332.21,323.49 V314.36 M330.41,323.49 h3.6 M330.41,314.36 h3.6" stroke="#2222ff" stroke-width="1.0" fill="none"/>
<path d="M360.63,309.53 V296.12 M358.83,309.53 h3.6 M358.83,296.12 h3.6" stroke="#2222ff" stroke-width="1.0" fill="none"/>
<path d="M384.21,330.46 V304.17 M382.41,330.46 h3.6 M382.41,304.17 h3.6" stroke="#2222ff" stroke-width="1.0" fill="none"/>
<path d="M425.18,336.90 V327.78 M423.38,336.90 h3.6 M423.38,327.78 h3.6 M421.88,332.61 H428.71 M421.88,330.81 v3.6 M428.71,330.81 v3.6" stroke="#2222ff" stroke-width="1.0" fill="none"/>
<path d="M467.48,319.73 V316.51 M465.68,319.73 h3.6 M465.68,316.51 h3.6 M461.75,318.12 H473.21 M461.75,316.32 v3.6 M473.21,316.32 v3.6" stroke="#2222ff" stroke-width="1.0" fill="none"/>
<path d="M508.90,331.54 V328.32 M507.10,331.54 h3.6 M507.10,328.32 h3.6 M501.41,329.93 H516.39 M501.41,328.13 v3.6 M516.39,328.13 v3.6" stroke="#2222ff" stroke-width="1.0" fill="none"/>
<rect x="329.91" y="317.43" width="4.6" height="4.6" fill="#000"/>
<rect x="358.33" y="270.74" width="4.6" height="4.6" fill="#000"/>
<rect x="381.91" y="294.35" width="4.6" height="4.6" fill="#000"/>
<rect x="422.88" y="284.37" width="4.6" height="4.6" fill="#000"/>
<rect x="465.18" y="280.94" width="4.6" height="4.6" fill="#000"/>
<rect x="506.60" y="292.21" width="4.6" height="4.6" fill="#000"/>
<circle cx="332.21" cy="319.73" r="2.8" fill="#0000ff"/>
<circle cx="360.63" cy="303.09" r="2.8" fill="#0000ff"/>
<circle cx="384.21" cy="317.05" r="2.8" fill="#0000ff"/>
<circle cx="425.18" cy="332.61" r="2.8" fill="#0000ff"/>
<circle cx="467.48" cy="318.12" r="2.8" fill="#0000ff"/>
<circle cx="508.90" cy="329.93" r="2.8" fill="#0000ff"/>
</svg></body></html>
